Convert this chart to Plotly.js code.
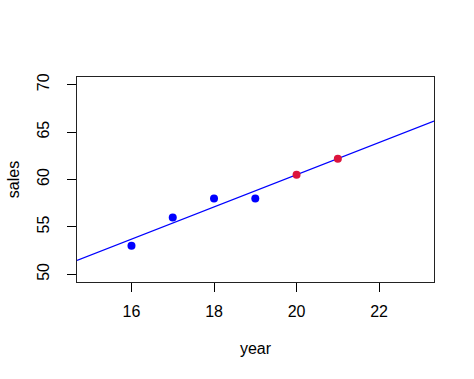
<!DOCTYPE html>
<html>
<head>
<meta charset="utf-8">
<script src="https://cdn.plot.ly/plotly-3.0.1.min.js"></script>
<style>html,body{margin:0;padding:0;background:#fff;}#chart{width:474px;height:379px;}</style>
</head>
<body>
<div id="chart"></div>
<script>
// observed data
var obsYear = [16, 17, 18, 19];
var obsSales = [53, 56, 58, 58];
// predicted data
var predYear = [20, 21];
var predSales = [60.5, 62.2];
// fitted line (read at plot edges)
var lineYear = [14.68, 23.33];
var lineSales = [51.46, 66.16];
var xTicks = [16, 18, 20, 22];
var yTicks = [50, 55, 60, 65, 70];

var font = {family: 'Liberation Sans, Arial, sans-serif', size: 16, color: '#000'};

var traces = [
  {x: lineYear, y: lineSales, mode: 'lines', line: {color: '#0000FF', width: 1.2}, hoverinfo: 'skip'},
  {x: obsYear, y: obsSales, mode: 'markers', marker: {color: '#0000FF', size: 8}},
  {x: predYear, y: predSales, mode: 'markers', marker: {color: '#DC143C', size: 8}}
];

var layout = {
  width: 474, height: 379,
  margin: {l: 77, r: 40, t: 77, b: 97},
  showlegend: false,
  paper_bgcolor: '#fff', plot_bgcolor: '#fff',
  font: font,
  xaxis: {
    range: [14.68, 23.33], tickvals: xTicks, ticktext: xTicks.map(String),
    ticks: 'outside', ticklen: 9, tickcolor: '#000', tickwidth: 1,
    showgrid: false, zeroline: false, showline: true, mirror: true, linecolor: '#222', linewidth: 1.2,
    tickfont: font, ticklabelstandoff: 6,
    title: {text: 'year', font: font, standoff: 23}
  },
  yaxis: {
    range: [49.19, 70.81], tickvals: yTicks, ticktext: yTicks.map(String),
    ticks: 'outside', ticklen: 9, tickcolor: '#000', tickwidth: 1, tickangle: -90,
    showgrid: false, zeroline: false, showline: true, mirror: true, linecolor: '#222', linewidth: 1.2,
    tickfont: font, ticklabelstandoff: 11,
    title: {text: 'sales', font: font, standoff: 11}
  }
};

Plotly.newPlot('chart', traces, layout, {displayModeBar: false, staticPlot: true});
</script>
</body>
</html>
